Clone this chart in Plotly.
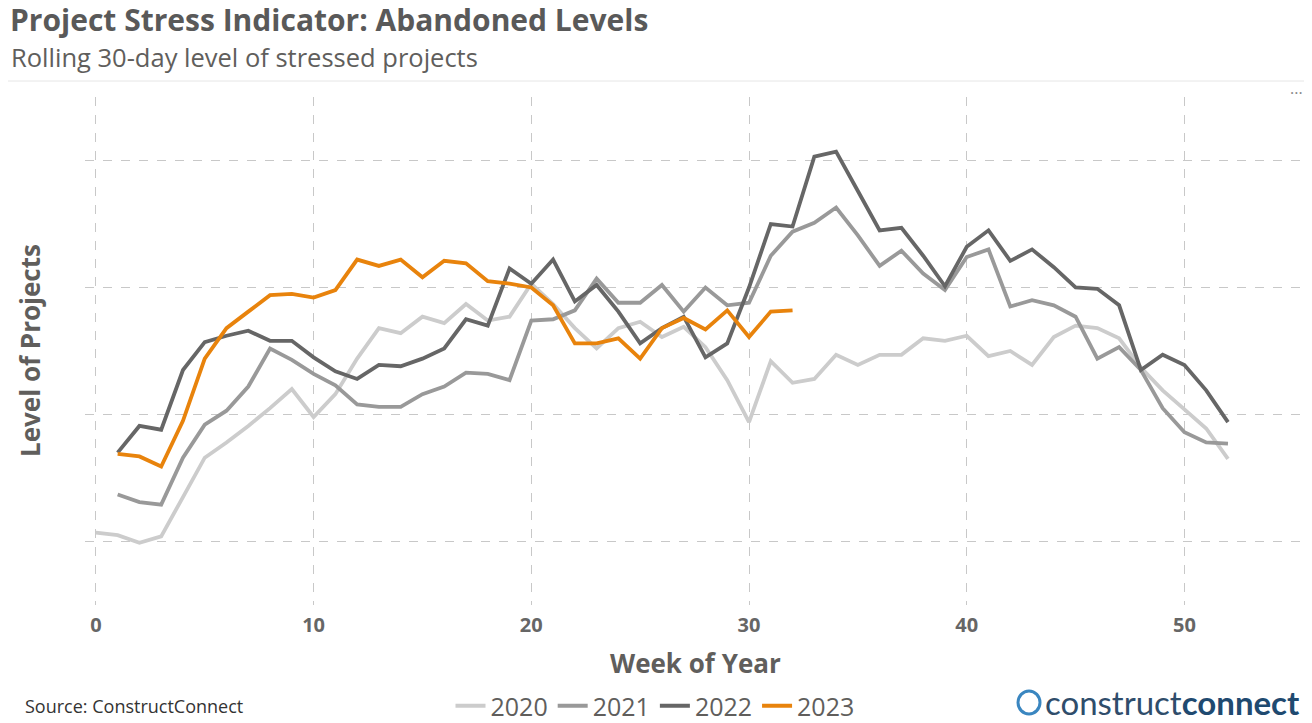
import plotly.graph_objects as go

# ---------------- data ----------------
weeks_2020 = list(range(0, 53))
values_2020 = [107, 105, 99, 104, 135, 166, 178, 191, 205, 220, 198, 216, 244, 268, 264,
               277, 272, 287, 274, 277, 303, 287, 268, 252, 268, 273, 261, 269, 253, 227,
               194, 242, 225, 228, 247, 239, 247, 247, 260, 258, 262, 246, 250, 239, 261,
               270, 268, 260, 237, 219, 204, 189, 165]

weeks_2021 = list(range(1, 53))
values_2021 = [137, 131, 129, 166, 192, 203, 222, 252, 243, 232, 223, 208, 206, 206, 216,
               222, 233, 232, 227, 274, 275, 282, 307, 288, 288, 302, 281, 300, 286, 288,
               325, 344, 351, 363, 341, 317, 329, 311, 298, 324, 330, 285, 290, 286, 277,
               244, 253, 235, 205, 186, 178, 177]

weeks_2022 = list(range(1, 53))
values_2022 = [170, 191, 188, 235, 257, 262, 266, 258, 258, 245, 234, 228, 239, 238, 244,
               252, 275, 270, 315, 303, 322, 289, 302, 281, 256, 268, 277, 245, 256, 300,
               350, 348, 403, 407, 376, 345, 347, 325, 301, 332, 345, 321, 330, 316, 300,
               299, 286, 235, 247, 239, 219, 194]

weeks_2023 = list(range(1, 33))
values_2023 = [169, 167, 159, 195, 244, 268, 281, 294, 295, 292, 298, 322, 317, 322, 308,
               321, 319, 305, 303, 300, 286, 256, 256, 260, 244, 268, 276, 267, 282, 261,
               281, 282]

series_names = ["2020", "2021", "2022", "2023"]
series_colors = ["#cccccc", "#999999", "#666666", "#e8830c"]
x_tick_values = [0, 10, 20, 30, 40, 50]

# ---------------- figure ----------------
OFF = 8                      # page body margin
W, H = 1312 - OFF, 723 - OFF
L, R, T, B = 85 - OFF, 10, 97 - OFF, 118
pw, ph = W - L - R, H - T - B


def px(x):  # screen px -> paper
    return (x - OFF - L) / pw


def py(y):
    return (H - B - (y - OFF)) / ph


fig = go.Figure()
all_series = [(weeks_2020, values_2020), (weeks_2021, values_2021),
              (weeks_2022, values_2022), (weeks_2023, values_2023)]
for (wk, vals), name, col in zip(all_series, series_names, series_colors):
    fig.add_trace(go.Scatter(x=wk, y=vals, mode="lines", name=name,
                             line=dict(color=col, width=3.8)))

font_family = "Open Sans, Noto Sans, sans-serif"
grid_col = "#c8c8c8"

fig.update_layout(
    width=W, height=H,
    margin=dict(l=L, r=R, t=T, b=B),
    paper_bgcolor="white", plot_bgcolor="white",
    font=dict(family=font_family, color="#605e5c"),
    showlegend=True,
    legend=dict(orientation="h", xref="container", yref="container",
                x=(655 - OFF) / W, xanchor="center", y=1 - (706 - OFF) / H,
                yanchor="middle",
                font=dict(size=25, color="#605e5c"), itemwidth=30,
                tracegroupgap=0),
    xaxis=dict(range=[-0.5, 55.4], tickvals=x_tick_values,
               ticktext=["<b>%d</b>" % v for v in x_tick_values],
               tickfont=dict(size=20, color="#666666"),
               showgrid=True, gridcolor=grid_col, griddash="dash", gridwidth=1,
               zeroline=False, showline=False, ticks="", ticklabelstandoff=6),
    yaxis=dict(range=[50, 450], tick0=0, dtick=100, showticklabels=False,
               showgrid=True, gridcolor=grid_col, griddash="dash", gridwidth=1,
               zeroline=False, showline=False, ticks=""),
)

ann = [
    dict(text="<b>Project Stress Indicator: Abandoned Levels</b>", x=px(9), y=py(19),
         xanchor="left", yanchor="middle", borderpad=0,
         font=dict(size=30, color="#595959")),
    dict(text="Rolling 30-day level of stressed projects", x=px(9), y=py(57),
         xanchor="left", yanchor="middle", font=dict(size=25.5, color="#605e5c")),
    dict(text="<b>Level of Projects</b>", x=px(30), y=py(351), textangle=-90,
         xanchor="center", yanchor="middle", font=dict(size=26, color="#605e5c")),
    dict(text="<b>Week of Year</b>", x=px(695), y=py(663),
         xanchor="center", yanchor="middle", font=dict(size=26, color="#605e5c")),
    dict(text="···", x=px(1296), y=py(93), xanchor="center", yanchor="middle",
         font=dict(size=16, color="#888888")),
    dict(text="Source: ConstructConnect", x=px(23), y=py(706), xanchor="left",
         yanchor="middle", font=dict(size=18, color="#333333")),
    dict(text="<span style='color:#2f4d6b'>construct</span><b><span style='color:#1f4a70'>connect</span></b>",
         x=px(1302), y=py(702), xanchor="right", yanchor="middle",
         font=dict(size=33, family="Lato, Open Sans, sans-serif")),
]
for a in ann:
    a.update(xref="paper", yref="paper", showarrow=False)
fig.update_layout(annotations=ann)

fig.add_shape(type="line", xref="paper", yref="paper", x0=px(OFF), x1=px(1312),
              y0=py(81), y1=py(81), line=dict(color="#e6e6e6", width=1))
# small logo mark
fig.add_shape(type="circle", xref="paper", yref="paper", x0=px(1018), x1=px(1040),
              y0=py(714), y1=py(691), line=dict(color="#3a86c0", width=3))

fig.write_html("out.html")
